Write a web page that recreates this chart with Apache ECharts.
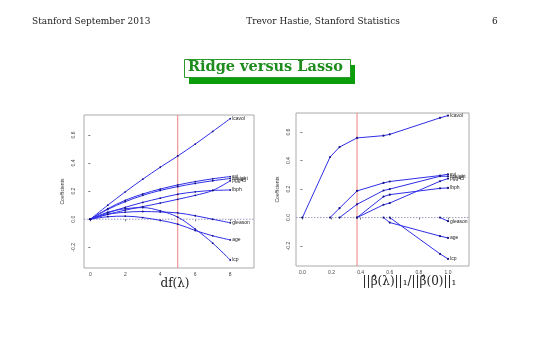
<!DOCTYPE html>
<html><head><meta charset="utf-8">
<script src="https://cdn.jsdelivr.net/npm/echarts@6/dist/echarts.min.js"></script>
<style>html,body{margin:0;padding:0;background:#fff}#c{width:540px;height:350px}</style>
</head><body><div id="c"></div>
<script>
// ---- data ----
const variables = ['lcavol','svi','lweight','pgg45','lbph','gleason','age','lcp'];

const ridgeDf = [0,1,2,3,4,5,6,7,8];
const ridgeLcavol  = [0, 0.100, 0.195, 0.285, 0.370, 0.450, 0.535, 0.625, 0.716];
const ridgeSvi     = [0, 0.075, 0.135, 0.180, 0.215, 0.244, 0.268, 0.288, 0.304];
const ridgeLweight = [0, 0.070, 0.125, 0.170, 0.205, 0.232, 0.255, 0.274, 0.290];
const ridgePgg45   = [0, 0.035, 0.065, 0.090, 0.115, 0.142, 0.170, 0.205, 0.274];
const ridgeLbph    = [0, 0.045, 0.085, 0.120, 0.150, 0.178, 0.195, 0.205, 0.208];
const ridgeGleason = [0, 0.035, 0.050, 0.055, 0.052, 0.045, 0.025, 0.000, -0.025];
const ridgeAge     = [0, 0.018, 0.022, 0.012, -0.008, -0.035, -0.080, -0.118, -0.147];
const ridgeLcp     = [0, 0.050, 0.075, 0.083, 0.060, 0.015, -0.070, -0.170, -0.290];

const lassoS = [0, 0.19, 0.255, 0.375, 0.557, 0.60, 0.945, 1.0];
const lassoLcavol  = [0, 0.425, 0.495, 0.559, 0.575, 0.584, 0.700, 0.716];
const lassoSvi     = [null, 0, 0.066, 0.187, 0.243, 0.253, 0.295, 0.304];
const lassoLweight = [null, null, 0, 0.093, 0.190, 0.200, 0.290, 0.290];
const lassoPgg45   = [null, null, null, 0, 0.090, 0.102, 0.255, 0.274];
const lassoLbph    = [null, null, null, 0, 0.147, 0.161, 0.205, 0.208];
const lassoGleason = [null, null, null, null, null, null, 0, -0.025];
const lassoAge     = [null, null, null, null, 0, -0.035, -0.130, -0.143];
const lassoLcp     = [null, null, null, null, null, 0, -0.255, -0.290];

const ridgeXTicks = [0, 2, 4, 6, 8];
const lassoXTicks = [0, 0.2, 0.4, 0.6, 0.8, 1.0];
const yTicks = [-0.2, 0, 0.2, 0.4, 0.6];
const ridgeChosenDf = 5;
const lassoChosenS = 0.375;

// axis ranges (R-style 4% padding)
const ridgeXRange = [-0.36, 9.36];
const ridgeYRange = [-0.347, 0.742];
const lassoXRange = [-0.044, 1.144];
const lassoYRange = [-0.34, 0.734];

const ridgeVals = [ridgeLcavol, ridgeSvi, ridgeLweight, ridgePgg45, ridgeLbph, ridgeGleason, ridgeAge, ridgeLcp];
const lassoVals = [lassoLcavol, lassoSvi, lassoLweight, lassoPgg45, lassoLbph, lassoGleason, lassoAge, lassoLcp];

// ---- styles ----
const lineColor = '#2f2fe8';
const dotColor = '#161680';
const redLine = '#ee8080';
const zeroLine = '#9a9ac4';
const sans = 'Liberation Sans';
const serif = 'DejaVu Serif';

function mkAxisX(gi, range, ticks, fmt, name, gap, shift) {
  return {
    type: 'value', gridIndex: gi, min: range[0], max: range[1],
    axisLine: {show: false},
    splitLine: {show: false},
    axisTick: {show: true, length: 2, lineStyle: {color: '#777'}, customValues: ticks},
    axisLabel: {fontSize: 5, color: '#444', fontFamily: sans, margin: 4, customValues: ticks, formatter: fmt},
    name: name, nameLocation: 'middle', nameGap: gap,
    nameTextStyle: {fontFamily: serif, fontSize: 12, color: '#222', padding: [0, 0, 0, shift]}
  };
}
function mkAxisY(gi, range, margin, nameGap) {
  return {
    type: 'value', gridIndex: gi, min: range[0], max: range[1],
    axisLine: {show: false},
    splitLine: {show: false},
    axisTick: {show: true, length: 2, lineStyle: {color: '#777'}, customValues: yTicks},
    axisLabel: {fontSize: 5, color: '#444', fontFamily: sans, margin: margin, rotate: 90,
      customValues: yTicks, formatter: v => v.toFixed(1)},
    name: 'Coefficients', nameLocation: 'middle', nameGap: nameGap, nameRotate: 90,
    nameTextStyle: {fontFamily: sans, fontSize: 5, color: '#333'}
  };
}

function guide(gi, pts, color, type) {
  return {
    name: 'guide', type: 'line', xAxisIndex: gi, yAxisIndex: gi, data: pts,
    symbol: 'none', lineStyle: {color: color, width: 1, type: type},
    silent: true, animation: false, z: 1, emphasis: {disabled: true}
  };
}

const series = [
  guide(0, [[ridgeXRange[0], 0], [ridgeXRange[1], 0]], zeroLine, [1.5, 1.5]),
  guide(0, [[ridgeChosenDf, ridgeYRange[0]], [ridgeChosenDf, ridgeYRange[1]]], redLine, 'solid'),
  guide(1, [[lassoXRange[0], 0], [lassoXRange[1], 0]], zeroLine, [1.5, 1.5]),
  guide(1, [[lassoChosenS, lassoYRange[0]], [lassoChosenS, lassoYRange[1]]], redLine, 'solid')
];
variables.forEach((name, k) => {
  series.push({
    name: name, type: 'line', xAxisIndex: 0, yAxisIndex: 0,
    data: ridgeDf.map((d, i) => [d, ridgeVals[k][i]]),
    smooth: 0.35, symbol: 'circle', symbolSize: 1.8,
    itemStyle: {color: dotColor},
    lineStyle: {color: lineColor, width: 1},
    endLabel: {show: true, formatter: '{a}', fontSize: 5, color: '#222', fontFamily: sans, distance: 2},
    emphasis: {disabled: true}, animation: false, silent: true, z: 3
  });
});
variables.forEach((name, k) => {
  const pts = [];
  lassoS.forEach((s, i) => { if (lassoVals[k][i] !== null) pts.push([s, lassoVals[k][i]]); });
  series.push({
    name: name, type: 'line', xAxisIndex: 1, yAxisIndex: 1,
    data: pts,
    symbol: 'circle', symbolSize: 2.2,
    itemStyle: {color: dotColor},
    lineStyle: {color: lineColor, width: 1},
    endLabel: {show: true, formatter: '{a}', fontSize: 5, color: '#222', fontFamily: sans, distance: 2},
    emphasis: {disabled: true}, animation: false, silent: true, z: 3
  });
});

const chart = echarts.init(document.getElementById('c'), null, {renderer: 'canvas'});
chart.setOption({
  backgroundColor: '#fff',
  animation: false,
  title: [
    {text: 'Stanford September 2013', left: 27, top: 12, textStyle: {fontFamily: serif, fontSize: 9, fontWeight: 'normal', color: '#222'}},
    {text: 'Trevor Hastie, Stanford Statistics', left: 318, textAlign: 'center', top: 12, textStyle: {fontFamily: serif, fontSize: 9, fontWeight: 'normal', color: '#222'}},
    {text: '6', left: 487, top: 12, textStyle: {fontFamily: serif, fontSize: 9, fontWeight: 'normal', color: '#222'}}
  ],
  graphic: [
    {type: 'rect', left: 189, top: 65, shape: {width: 166, height: 19}, style: {fill: '#0a9e0a'}, silent: true},
    {type: 'rect', left: 184, top: 59, shape: {width: 166, height: 18}, style: {fill: '#fff', stroke: '#2a9a2a', lineWidth: 1}, silent: true},
    {type: 'text', left: 188, top: 60, style: {text: 'Ridge versus Lasso', fill: '#1e8c1e', font: 'bold 14.5px "DejaVu Serif"'}, silent: true}
  ],
  grid: [
    {left: 84, top: 115, width: 170, height: 153, show: true, borderColor: '#aaa', borderWidth: 1, backgroundColor: 'transparent', outerBoundsMode: 'none'},
    {left: 296, top: 113, width: 173, height: 153, show: true, borderColor: '#aaa', borderWidth: 1, backgroundColor: 'transparent', outerBoundsMode: 'none'}
  ],
  xAxis: [
    mkAxisX(0, ridgeXRange, ridgeXTicks, v => String(Math.round(v)), 'df(λ)', 7, 12),
    mkAxisX(1, lassoXRange, lassoXTicks, v => v.toFixed(1), '||β̂(λ)||₁/||β̂(0)||₁', 6, 54)
  ],
  yAxis: [
    mkAxisY(0, ridgeYRange, 8, 19),
    mkAxisY(1, lassoYRange, 5, 16)
  ],
  series: series
});
</script></body></html>
